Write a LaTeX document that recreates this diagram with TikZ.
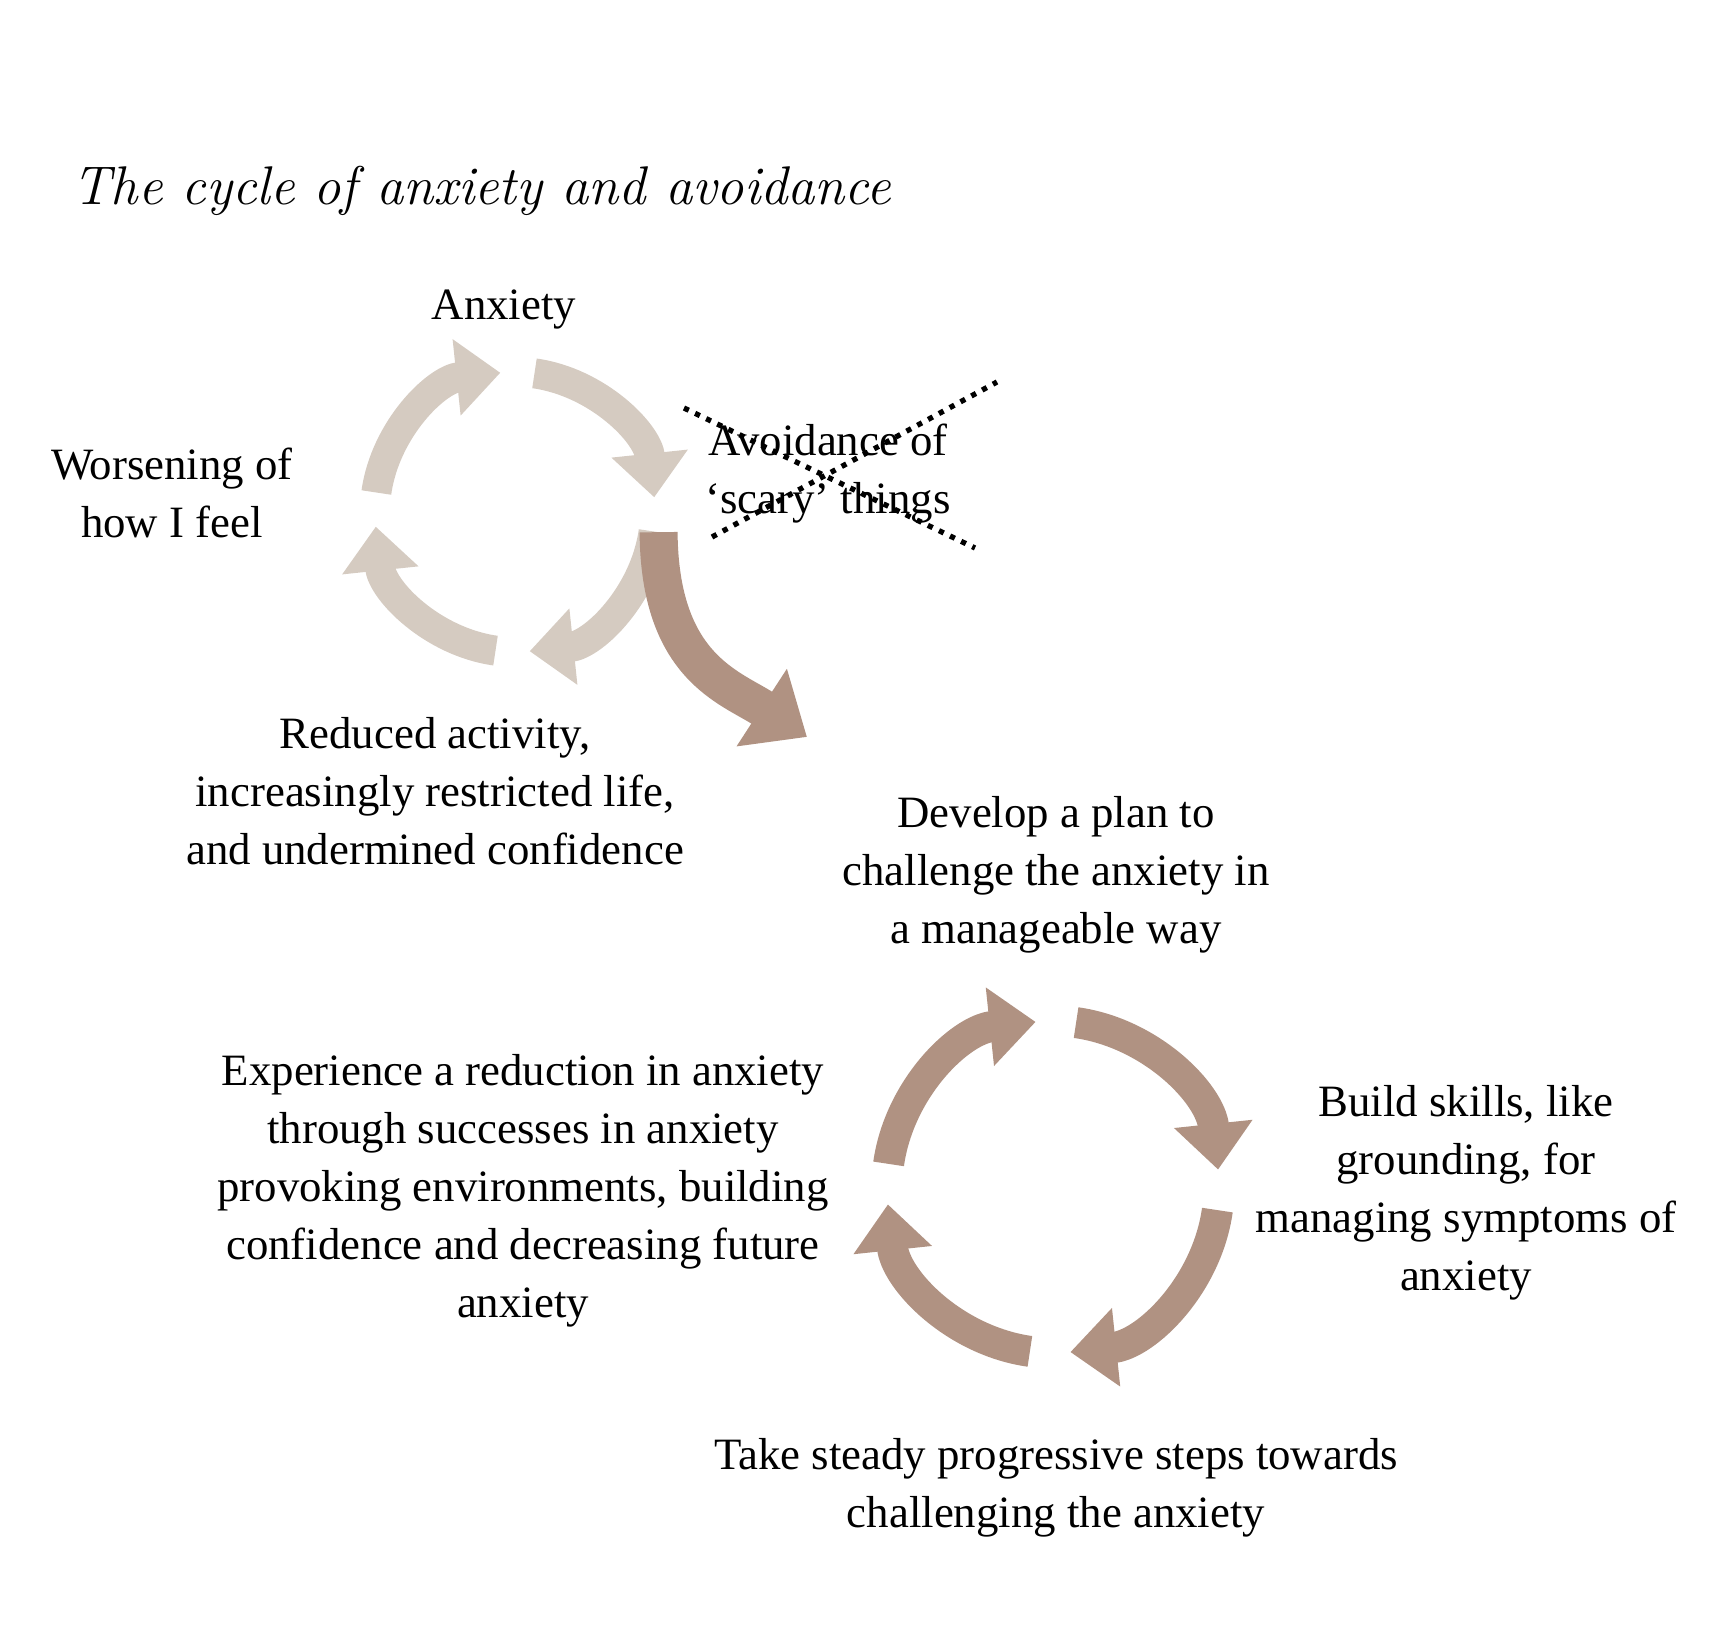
\documentclass[tikz,border=0pt]{standalone}
\usepackage{fontspec}
\newfontfamily\bodyfont{Liberation Serif}
\usepackage{xcolor}
\usepackage{tikz}
\usetikzlibrary{arrows.meta, positioning, calc}
\definecolor{sand}{RGB}{213,203,193}
\definecolor{taupe}{RGB}{176,146,130}
\tikzset{
    phrase/.style={align=center, inner sep=0pt, font=\bodyfont\fontsize{12.75}{16.5}\selectfont},
    heading/.style={inner sep=0pt, font=\itshape\fontsize{15.5}{20}\selectfont},
    lightloop/.style={draw=sand, line width=0.30cm, -{Triangle[width=0.74cm, length=0.44cm]}},
    darkloop/.style={draw=taupe, line width=0.31cm, -{Triangle[width=0.76cm, length=0.46cm]}},
    breakout/.style={draw=taupe, line width=0.38cm, -{Triangle[width=0.89cm, length=0.54cm]}},
    strike/.style={line width=1.5pt, dash pattern=on 1.5pt off 2pt}
}

\begin{document}
\begin{tikzpicture}
    \useasboundingbox (0,0) rectangle (17.28,16.27);

    % Title
    \node[heading, anchor=base west] (title) at (0.72,14.22) {The cycle of anxiety and avoidance};

    % Cycle of avoidance
    \coordinate (cycA) at (5.15,11.15);
    \foreach \a in {172,82,-8,-98}
        \draw[lightloop] ($(cycA)+(\a:1.40)$) arc[start angle=\a, end angle=\a-76, radius=1.40];
    \node[phrase] (anxiety) at (5.04,13.17) {Anxiety};
    \node[phrase] (avoid) at (8.28,11.53) {Avoidance of\\‘scary’ things};
    \node[phrase] (reduced) at (4.35,8.36) {Reduced activity,\\increasingly restricted life,\\and undermined confidence};
    \node[phrase] (worse) at (1.72,11.34) {Worsening of\\how I feel};

    % Avoidance crossed out
    \draw[strike] (6.84,12.19) -- (9.75,10.79);
    \draw[strike] (7.12,10.90) -- (9.97,12.45);

    % Breaking out of the cycle
    \coordinate (exit) at ($(cycA)+(-8:1.45)$);
    \coordinate (entry) at (8.07,8.90);
    \draw[breakout] (exit) .. controls +(0.01,-1.35) and +(-0.77,0.50) .. (entry);
    \node[phrase] (plan) at (10.56,7.52) {Develop a plan to\\challenge the anxiety in\\a manageable way};

    % Cycle of recovery
    \coordinate (cycB) at (10.53,4.40);
    \foreach \a in {172,82,-8,-98}
        \draw[darkloop] ($(cycB)+(\a:1.66)$) arc[start angle=\a, end angle=\a-76, radius=1.66];
    \node[phrase] (skills) at (14.66,4.34) {Build skills, like\\grounding, for\\managing symptoms of\\anxiety};
    \node[phrase] (steps) at (10.56,1.39) {Take steady progressive steps towards\\challenging the anxiety};
    \node[phrase] (success) at (5.23,4.36) {Experience a reduction in anxiety\\through successes in anxiety\\provoking environments, building\\confidence and decreasing future\\anxiety};
\end{tikzpicture}
\end{document}
